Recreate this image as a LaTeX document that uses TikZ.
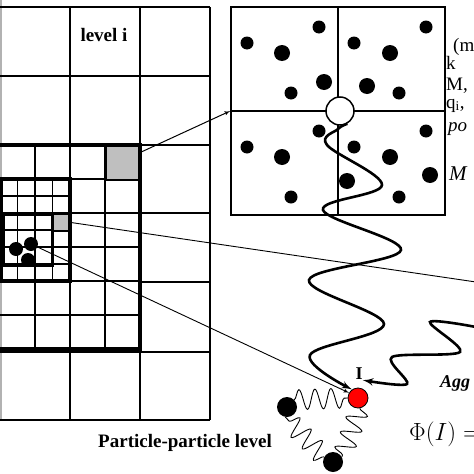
\documentclass[tikz,border=0pt]{standalone}
\usepackage{fontspec}
\setmainfont{Liberation Serif}
\usetikzlibrary{arrows,calc,decorations.pathmorphing,positioning}
\tikzset{%
	gridline/.style = {line width=1.6pt},
	boxline/.style  = {line width=3.5pt},
	cellbox/.style  = {draw, fill=gray!50, line width=2pt, inner sep=0pt}, % shaded cell
	dot/.style      = {circle, fill=black, inner sep=0pt, minimum size=13pt},
	bigdot/.style   = {dot, minimum size=16pt},
	hole/.style     = {circle, draw, fill=white, line width=1.5pt, inner sep=0pt, minimum size=28pt},
	wave/.style     = {line width=2.6pt, ->},
	spring/.style   = {line width=0.9pt, decorate, decoration={snake, amplitude=10pt, segment length=16pt}},
	title/.style    = {font=\bfseries\fontsize{19}{22}\selectfont, inner sep=0pt},
	note/.style     = {anchor=base west, inner sep=0pt, font=\fontsize{19}{21}\selectfont},
}

\begin{document}
\begin{tikzpicture}[x=1pt,y=-1pt,>=latex']
	\useasboundingbox (0,0) rectangle (474,474);
	\clip (0,0) rectangle (474,474);
	
	% level i grid
	\draw[gray!60, line width=2pt] (0.5,0) -- (0.5,420);
	\draw[gridline] (0,7) -- (210,7) (0,76) -- (210,76) (0,145) -- (210,145)
		(140,213) -- (210,213) (140,282) -- (210,282) (0,352) -- (210,352) (0,420) -- (210,420);
	\draw[gridline] (70,7) -- (70,145) (70,352) -- (70,420) (140,7) -- (140,420) (210,7) -- (210,420);
	\foreach \x in {35,70,105} \draw[gridline] (\x,145) -- (\x,349);
	\foreach \y in {179,213,247,281,315} \draw[gridline] (0,\y) -- (140,\y);
	\foreach \x in {17.5,52.5} \draw[gridline] (\x,179) -- (\x,281);
	\foreach \y in {196,230,264} \draw[gridline] (0,\y) -- (70,\y);
	
	\node [cellbox, minimum width=34pt, minimum height=35pt] (cellA) at (123,162.5) {};
	\node [cellbox, minimum width=17.5pt, minimum height=17pt] (cellB) at (61.25,222.5) {};
	\draw[boxline] (0,145) -- (140,145) -- (140,349) -- (0,349);
	\draw[boxline] (1,179) rectangle (70,281);
	\draw[boxline] (3,214) rectangle (52.5,265);
	
	\node [dot, minimum size=14pt] (p1) at (16,249) {};
	\node [dot, minimum size=14pt] (p2) at (31,244) {};
	\node [dot, minimum size=14pt] (p3) at (28,260) {};
	\node [title] (lvl) at (104,35) {level i};
	
	% cell at level i, zoomed
	\node [draw, gridline, inner sep=0pt, minimum width=214pt, minimum height=208pt] (boxR) at (338,111) {};
	\draw[gridline] (boxR.north) -- (boxR.south) (boxR.west) -- (boxR.east);
	\foreach \px/\py in {247/43, 319/27, 291/93, 354/43, 426/27, 399/93, 247/147, 319/131, 291/197, 354/147, 426/131, 399/197}
		\node [dot] at (\px,\py) {};
	\foreach \px/\py in {282/53, 324/82, 390/53, 367/86, 282/157, 390/157, 347/181, 430/175}
		\node [bigdot] at (\px,\py) {};
	\node [hole] (hole) at (340,111) {};
	
	\node [note] (t1) at (453,51) {(m};
	\node [note] (t2) at (446,69) {k};
	\node [note] (t3) at (446,90) {M,};
	\node [note] (t4) at (446,108) {q$_\mathrm{i}$,};
	\node [note, font=\itshape\fontsize{19}{21}\selectfont] (t5) at (448,131) {po};
	\node [note, font=\itshape\fontsize{21}{23}\selectfont] (t6) at (449,180) {M};
	
	% particle level
	\node [circle, draw, fill=red, line width=0.8pt, inner sep=0pt, minimum size=20pt] (red) at (358,398) {};
	\node [dot, minimum size=20pt] (b1) at (287,407) {};
	\node [dot, minimum size=20pt] (b2) at (333,462) {};
	\node [title, font=\bfseries\fontsize{18}{20}\selectfont] (Ilab) at (359,374) {I};
	\node [title, anchor=base] (pp) at (185,447) {Particle-particle level};
	\node [anchor=base west, inner sep=0pt, font=\bfseries\itshape\fontsize{18}{20}\selectfont] (agg) at (440,387) {Agg};
	\node [anchor=base west, inner sep=0pt, font=\fontsize{24}{28}\selectfont] (phi) at (409,440) {$\Phi\bigl(I\bigr)=$};
	\coordinate (farA) at (476,282);
	\coordinate (farB) at (476,327);
	
	\draw[->, line width=1pt] (cellA.30) -- (boxR.west);
	\draw[line width=0.9pt] (cellB.east) -- (farA);
	\draw[->, line width=0.9pt] (p2.center) -- (red.150);
	\draw[wave] plot[smooth, tension=0.6] coordinates {(hole.-60) (338,129) (327,145) (382,185) (323,210) (401,250) (309,280) (384,324) (310,355) (red.125)};
	\draw[wave] plot[smooth, tension=0.5] coordinates {(farB) (430,322) (460,352) (392,357) (407,384) (Ilab.south east)};
	\draw[spring] (b1.45) -- (red.west);
	\draw[spring] (red.-80) -- (b2.30);
	\draw[spring] (b2.150) -- (b1.-100);
\end{tikzpicture}
\end{document}
